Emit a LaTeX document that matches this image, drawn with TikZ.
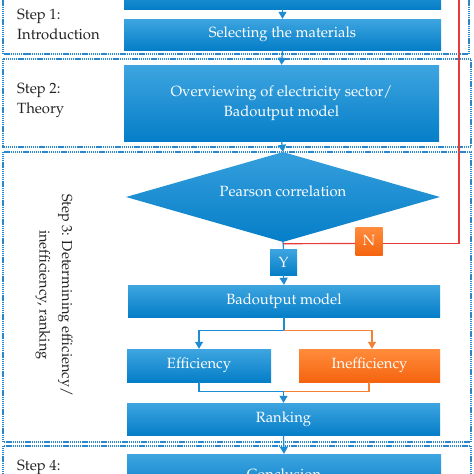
\documentclass[tikz,border=0pt]{standalone}
\usepackage[T1]{fontenc}
\usepackage{mathpazo}
\usetikzlibrary{arrows.meta,shapes.geometric,calc}
\definecolor{bluetop}{RGB}{62,165,224}
\definecolor{bluebot}{RGB}{5,126,200}
\definecolor{orangetop}{RGB}{255,140,60}
\definecolor{orangebot}{RGB}{245,100,15}
\definecolor{arrowblue}{RGB}{30,140,210}
\definecolor{arroworange}{RGB}{245,130,50}
\definecolor{redline}{RGB}{232,60,60}
\definecolor{framecol}{RGB}{40,135,205}
\definecolor{labelcol}{RGB}{35,35,35}
\tikzset{
  bluebox/.style={rectangle, inner sep=0pt, top color=bluetop, bottom color=bluebot, text=white, font=\fontsize{14.8}{20}\selectfont, align=center},
  orangebox/.style={rectangle, inner sep=0pt, top color=orangetop, bottom color=orangebot, text=white, font=\fontsize{14.8}{20}\selectfont, align=center},
  stepframe/.style={draw=framecol, line width=1.6pt, dash pattern=on 1.2pt off 0.7pt},
  steplabel/.style={text=labelcol, font=\fontsize{14.8}{20}\selectfont, align=left, anchor=west, inner sep=0pt},
  blink/.style={draw=arrowblue, line width=1.2pt, -{Triangle[width=8pt,length=7pt]}},
  blinkplain/.style={draw=arrowblue, line width=1.2pt},
  olink/.style={draw=arroworange, line width=1.2pt, -{Triangle[width=8pt,length=7pt]}},
  olinkplain/.style={draw=arroworange, line width=1.2pt},
  rlink/.style={draw=redline, line width=1.2pt},
}
\begin{document}
\begin{tikzpicture}[x=1pt,y=-1pt]
\path[use as bounding box, clip] (0,0) rectangle (474,474);
\fill[white] (0,0) rectangle (474,474);
% frames
\draw[stepframe] (3,-10) rectangle (469,54);
\draw[stepframe] (3,59) rectangle (471,147);
\draw[stepframe] (3,152) rectangle (471,442);
\draw[stepframe] (3,446) rectangle (471,490);
% step labels
\node[steplabel] (s1) at (17,25) {Step 1:\\Introduction};
\node[steplabel] (s2) at (17,100) {Step 2:\\Theory};
\node[text=labelcol, font=\fontsize{14.5}{22.5}\selectfont, align=center, rotate=-90, inner sep=0pt] (s3) at (54,295) {Step 3: Determining efficiency/\\inefficiency, ranking};
\node[steplabel] (s4) at (17,467) {Step 4:};
% boxes
\node[bluebox, minimum width=317pt, minimum height=30pt] (top) at (282.5,-6) {};
\node[bluebox, minimum width=317pt, minimum height=31pt] (sel) at (282.5,34.5) {Selecting the materials};
\node[bluebox, minimum width=315pt, minimum height=76pt] (over) at (281.5,103) {Overviewing of electricity sector/\\Badoutput model};
\node[diamond, inner sep=0pt, minimum width=314pt, minimum height=90pt, top color=bluetop!85!bluebot, bottom color=bluebot, text=white, font=\fontsize{14.8}{20}\selectfont] (dia) at (283,197) {};
\node[text=white, font=\fontsize{14.8}{20}\selectfont, inner sep=0pt] (pear) at (283,191.5) {Pearson correlation};
\node[bluebox, minimum width=27pt, minimum height=26pt] (yes) at (283.5,262) {Y};
\node[orangebox, minimum width=27pt, minimum height=28pt] (no) at (369,241) {N};
\node[bluebox, minimum width=312pt, minimum height=32pt] (bad) at (284,301) {Badoutput model};
\node[bluebox, minimum width=144pt, minimum height=33pt] (eff) at (199,365.5) {Efficiency};
\node[orangebox, minimum width=141pt, minimum height=33pt] (ineff) at (369.5,365.5) {Inefficiency};
\node[bluebox, minimum width=313pt, minimum height=32pt] (rank) at (283.5,419) {Ranking};
\node[bluebox, minimum width=314pt, minimum height=40pt] (conc) at (284,474) {Conclusion};
% connectors
\draw[blink] (top.south) -- (sel.north);
\draw[blink] (sel.south) -- (over.north);
\draw[blink] (over.south) -- (dia.north);
\draw[blinkplain] (dia.south) -- (yes.north);
\draw[blink] (yes.south) -- (bad.north);
\coordinate (split) at ($(bad.south)+(0,13)$);
\draw[blink] (bad.south) -- (split) -| (eff.north);
\draw[olink] (split) -| ($(ineff.north)+(2.5,0)$);
\coordinate (merge) at ($(rank.north)+(0,-11)$);
\draw[blinkplain] (eff.south) |- (merge);
\draw[olinkplain] ($(ineff.south)+(-0.5,0)$) |- (merge);
\draw[blink] (merge) -- (rank.north);
\draw[blink] (rank.south) -- (conc.north);
\coordinate (rtop) at (459,-6);
\draw[rlink] (dia.south) ++(0,1.5) -- (no.west |- 0,243.5);
\draw[rlink, -{Triangle[width=8pt,length=7pt]}] (no.east |- 0,243.5) -| (rtop) -- (top.east);
\end{tikzpicture}
\end{document}
